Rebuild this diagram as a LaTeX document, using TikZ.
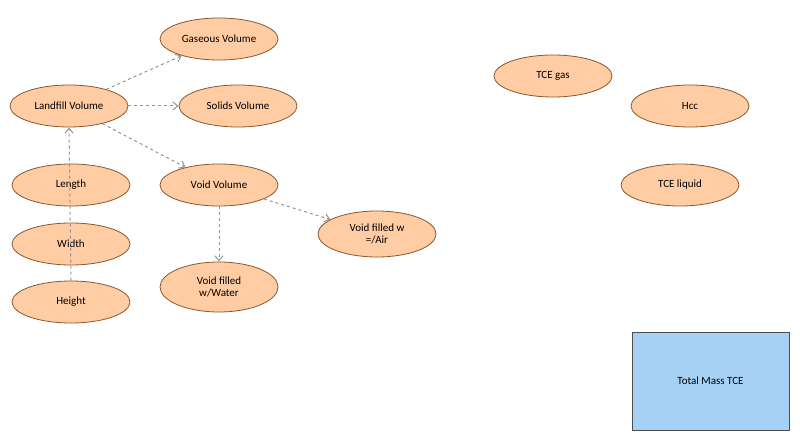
\documentclass[tikz,border=0pt]{standalone}
\usepackage{fontspec}
\setmainfont{Carlito}
\usetikzlibrary{shapes.geometric,arrows.meta}
\begin{document}
\begin{tikzpicture}[x=1pt,y=-1pt,
  el/.style={ellipse,draw=brown!70!black,fill={rgb,255:red,255;green,204;blue,164},minimum width=118pt,minimum height=42pt,inner sep=0pt,font=\fontsize{11}{12}\selectfont,align=center,line width=0.8pt},
  ar/.style={draw=gray!85,dashed,line width=1pt,-{Straight Barb[length=5pt,width=8pt]}}]
\useasboundingbox (0,0) rectangle (800,446);
\node[el] (lv) at (69,106) {Landfill Volume};
\node[el] (gv) at (219,39) {Gaseous Volume};
\node[el] (sv) at (238,106) {Solids Volume};
\node[el] (vv) at (219,185) {Void Volume};
\node[el] (le) at (71,185) {Length};
\node[el] (wi) at (71,244) {Width};
\node[el] (he) at (71,302) {Height};
\node[el,minimum height=46pt] (va) at (377,234) {Void filled w\\=/Air};
\node[el,minimum height=50pt] (vw) at (219,287) {Void filled\\w/Water};
\node[el] (tg) at (553,76) {TCE gas};
\node[el] (hc) at (690,106) {Hcc};
\node[el] (tl) at (680,185) {TCE liquid};
\node[draw=gray!60!black,fill={rgb,255:red,166;green,209;blue,245},minimum width=157pt,minimum height=98pt,font=\fontsize{11}{12}\selectfont,line width=0.8pt] (tm) at (710.5,381) {Total Mass TCE};
\draw[ar] (lv) -- (gv);
\draw[ar] (lv) -- (sv);
\draw[ar] (lv) -- (vv);
\draw[ar] (vv) -- (va);
\draw[ar] (vv) -- (vw);
\draw[ar] (he.north) -- (lv.south);
\end{tikzpicture}
\end{document}
